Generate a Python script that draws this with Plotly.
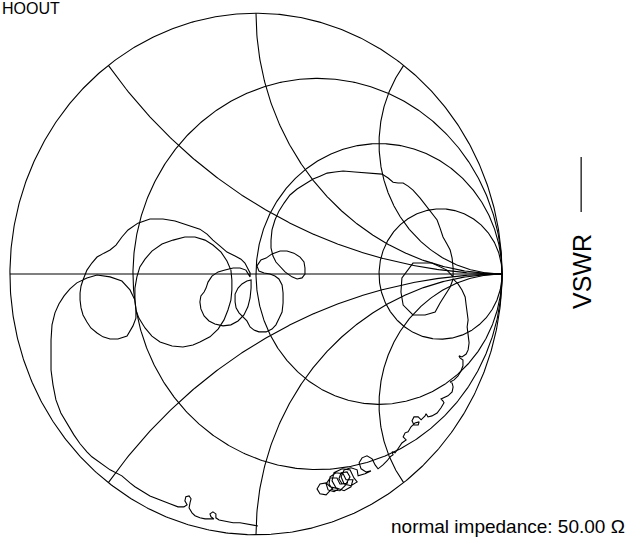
import numpy as np
import plotly.graph_objects as go

# smith chart grid values (normalised)
R_CIRCLES = [1/3, 1, 3]
X_ARCS = [0.5, 1, 2]

GAMMA_RE = [
    0.008, -0.012, -0.041, -0.065, -0.093, -0.118, -0.150, -0.163, -0.163, -0.175,
    -0.187, -0.183, -0.171, -0.187, -0.207, -0.228, -0.248, -0.260, -0.272, -0.268,
    -0.264, -0.272, -0.285, -0.289, -0.280, -0.293, -0.317, -0.350, -0.390, -0.431,
    -0.459, -0.492, -0.512, -0.545, -0.593, -0.634, -0.667, -0.687, -0.715, -0.740,
    -0.768, -0.793, -0.813, -0.825, -0.833, -0.833, -0.833, -0.829, -0.817, -0.801,
    -0.780, -0.756, -0.728, -0.687, -0.646, -0.593, -0.545, -0.512, -0.492,
    -0.488, -0.476, -0.451, -0.423, -0.390, -0.341, -0.297, -0.256, -0.228, -0.187,
    -0.154, -0.130, -0.114, -0.102, -0.098, -0.098, -0.102, -0.118, -0.142, -0.175,
    -0.207, -0.248, -0.289, -0.337, -0.382, -0.423, -0.451, -0.472, -0.484, -0.492,
    -0.492, -0.488, -0.488,
    -0.500, -0.524, -0.561, -0.593, -0.622, -0.646, -0.671, -0.687, -0.703, -0.711,
    -0.715, -0.715, -0.711, -0.703, -0.687, -0.667, -0.646, -0.618, -0.593, -0.569,
    -0.545, -0.520, -0.480, -0.431, -0.378, -0.329, -0.276, -0.228, -0.199, -0.175,
    -0.146, -0.118, -0.085, -0.061, -0.045, -0.033, -0.024, -0.024,
    -0.041, -0.065, -0.093, -0.126, -0.154, -0.179, -0.195, -0.203, -0.211, -0.224,
    -0.228, -0.224, -0.211, -0.191, -0.167, -0.134, -0.102, -0.073, -0.049, -0.033,
    -0.024, -0.020, -0.020,
    -0.037, -0.057, -0.073, -0.085, -0.085, -0.081, -0.069, -0.053, -0.037, -0.024,
    -0.008, 0.012, 0.041, 0.065, 0.081, 0.093, 0.106, 0.110, 0.110, 0.106,
    0.093, 0.077, 0.057, 0.033, 0.012, 0.004,
    0.020, 0.041, 0.065, 0.098, 0.126, 0.154, 0.179, 0.195, 0.199, 0.199,
    0.187, 0.167, 0.146, 0.118, 0.098, 0.081, 0.069, 0.061, 0.061, 0.065,
    0.077, 0.093, 0.114, 0.138, 0.167, 0.199, 0.232, 0.260, 0.289, 0.321,
    0.354, 0.402, 0.451, 0.484, 0.512, 0.537, 0.557, 0.577, 0.598, 0.618,
    0.638, 0.667, 0.695, 0.715, 0.736, 0.748, 0.760, 0.776, 0.789, 0.797,
    0.801, 0.801,
    0.776, 0.715, 0.638, 0.593, 0.589, 0.598, 0.638, 0.687, 0.728, 0.748,
    0.789, 0.801,
    0.821, 0.837, 0.850, 0.854, 0.858, 0.862, 0.858, 0.862, 0.866, 0.862,
    0.854, 0.837, 0.825, 0.829, 0.841, 0.841, 0.833, 0.821, 0.805, 0.789,
    0.797, 0.801, 0.797, 0.780, 0.764, 0.752, 0.760, 0.764, 0.752, 0.736,
    0.715, 0.699, 0.691, 0.687, 0.671, 0.659, 0.642, 0.634, 0.642, 0.659,
    0.663, 0.646, 0.630, 0.618, 0.606, 0.598, 0.610, 0.593, 0.577, 0.565,
    0.553, 0.557, 0.545, 0.533, 0.516, 0.496,
    0.484, 0.472, 0.451, 0.431, 0.419, 0.427, 0.447, 0.467, 0.443, 0.415,
    0.411, 0.386, 0.358, 0.346, 0.358, 0.386, 0.411, 0.398,
    0.382, 0.350, 0.317, 0.309, 0.325, 0.358, 0.386, 0.394,
    0.366, 0.354, 0.325, 0.301, 0.297, 0.313, 0.341, 0.362,
    0.382, 0.370, 0.346, 0.337, 0.350, 0.374,
    0.341, 0.329, 0.301, 0.285, 0.293, 0.317, 0.337,
    0.301, 0.285, 0.260, 0.248, 0.260, 0.285, 0.301, 0.313,
]
GAMMA_IM = [
    -0.966, -0.962, -0.958, -0.954, -0.954, -0.950, -0.943, -0.935, -0.920, -0.912,
    -0.920, -0.931, -0.939, -0.939, -0.939, -0.935, -0.927, -0.916, -0.897, -0.877,
    -0.862, -0.851, -0.854, -0.870, -0.885, -0.893, -0.893, -0.881, -0.866, -0.851,
    -0.835, -0.816, -0.801, -0.774, -0.751, -0.724, -0.701, -0.682, -0.651, -0.617,
    -0.575, -0.533, -0.483, -0.425, -0.368, -0.310, -0.253, -0.195, -0.149, -0.115,
    -0.084, -0.057, -0.034, -0.015, -0.004, -0.011, -0.027, -0.061, -0.100,
    -0.138, -0.169, -0.207, -0.238, -0.261, -0.276, -0.280, -0.272, -0.261, -0.241,
    -0.211, -0.176, -0.138, -0.100, -0.061, -0.023, 0.015, 0.050, 0.084, 0.111,
    0.130, 0.142, 0.142, 0.130, 0.115, 0.088, 0.057, 0.027, -0.011, -0.054,
    -0.100, -0.138, -0.169,
    -0.199, -0.238, -0.249, -0.249, -0.241, -0.226, -0.207, -0.184, -0.157, -0.130,
    -0.100, -0.073, -0.046, -0.023, 0.015, 0.042, 0.065, 0.080, 0.092, 0.111,
    0.142, 0.169, 0.195, 0.211, 0.211, 0.203, 0.188, 0.172, 0.153, 0.130,
    0.107, 0.084, 0.069, 0.057, 0.042, 0.023, 0.004, -0.011,
    0.015, 0.023, 0.023, 0.015, 0.008, -0.008, -0.031, -0.054, -0.069, -0.084,
    -0.107, -0.134, -0.161, -0.180, -0.192, -0.199, -0.195, -0.180, -0.157, -0.126,
    -0.092, -0.054, -0.023,
    -0.027, -0.038, -0.054, -0.077, -0.107, -0.130, -0.149, -0.165, -0.180, -0.203,
    -0.215, -0.222, -0.222, -0.211, -0.195, -0.172, -0.146, -0.111, -0.073, -0.042,
    -0.019, -0.008, 0.000, 0.004, 0.011, 0.031,
    0.054, 0.061, 0.077, 0.088, 0.088, 0.080, 0.065, 0.046, 0.023, 0.000,
    -0.015, -0.019, -0.011, 0.008, 0.027, 0.046, 0.069, 0.100, 0.130, 0.169,
    0.207, 0.241, 0.272, 0.303, 0.326, 0.345, 0.364, 0.375, 0.387, 0.391,
    0.395, 0.391, 0.387, 0.387, 0.383, 0.368, 0.352, 0.349, 0.349, 0.337,
    0.322, 0.291, 0.257, 0.234, 0.207, 0.176, 0.142, 0.115, 0.092, 0.061,
    0.023, -0.011,
    0.015, 0.042, 0.042, -0.015, -0.069, -0.119, -0.157, -0.157, -0.146, -0.111,
    -0.050, -0.019,
    -0.038, -0.061, -0.088, -0.119, -0.149, -0.176, -0.203, -0.234, -0.264, -0.291,
    -0.307, -0.318, -0.314, -0.322, -0.330, -0.352, -0.372, -0.391, -0.406, -0.414,
    -0.418, -0.433, -0.452, -0.467, -0.475, -0.479, -0.487, -0.494, -0.513, -0.533,
    -0.544, -0.548, -0.536, -0.544, -0.559, -0.548, -0.548, -0.563, -0.579, -0.579,
    -0.567, -0.571, -0.586, -0.605, -0.609, -0.625, -0.636, -0.648, -0.670, -0.686,
    -0.682, -0.693, -0.701, -0.716, -0.732, -0.747,
    -0.732, -0.709, -0.697, -0.705, -0.724, -0.747, -0.759, -0.755, -0.766, -0.774,
    -0.751, -0.743, -0.751, -0.778, -0.805, -0.812, -0.797, -0.782,
    -0.751, -0.747, -0.762, -0.793, -0.820, -0.831, -0.816, -0.789,
    -0.789, -0.766, -0.762, -0.778, -0.805, -0.828, -0.831, -0.812,
    -0.778, -0.759, -0.762, -0.785, -0.805, -0.801,
    -0.805, -0.782, -0.782, -0.805, -0.828, -0.835, -0.824,
    -0.816, -0.801, -0.805, -0.824, -0.843, -0.847, -0.831, -0.820,
]

# build the grid lines in the reflection plane
t = np.linspace(0, 2 * np.pi, 721)
gx, gy = [], []

def add(xs, ys):
    gx.extend(list(xs) + [None])
    gy.extend(list(ys) + [None])

add(np.cos(t), np.sin(t))
add([-1, 1], [0, 0])
for r in R_CIRCLES:
    c, rad = r / (r + 1), 1 / (r + 1)
    add(c + rad * np.cos(t), rad * np.sin(t))
rr = np.concatenate([np.linspace(0, 5, 400), np.geomspace(5, 1e5, 300)])
for xv in X_ARCS:
    for s in (1, -1):
        z = rr + 1j * s * xv
        g = (z - 1) / (z + 1)
        add(list(g.real) + [1.0], list(g.imag) + [0.0])

fig = go.Figure()
fig.add_trace(go.Scatter(x=gx, y=gy, mode="lines",
                         line=dict(color="black", width=1.1), hoverinfo="skip"))
fig.add_trace(go.Scatter(x=GAMMA_RE, y=GAMMA_IM, mode="lines", name="VSWR",
                         line=dict(color="black", width=1.1)))

fnt = "Liberation Sans"
fig.add_annotation(text="HOOUT", xref="paper", yref="paper", x=-0.010, y=1.0,
                   xanchor="left", yanchor="middle", showarrow=False,
                   font=dict(family=fnt, size=16, color="black"))
fig.add_annotation(text="VSWR", xref="paper", yref="paper", x=1.1497, y=0.504,
                   textangle=-90, xanchor="center", yanchor="middle", showarrow=False,
                   font=dict(family=fnt, size=25, color="black"))
fig.add_shape(type="line", xref="paper", yref="paper", x0=1.1477, x1=1.1477,
              y0=0.6165, y1=0.7198, line=dict(color="black", width=1.2))
fig.add_annotation(text="normal impedance: 50.00 Ω", xref="paper", yref="paper",
                   x=1.2394, y=0.0248, xanchor="right", yanchor="middle",
                   showarrow=False, font=dict(family=fnt, size=19, color="black"))

fig.update_layout(
    width=634, height=543,
    margin=dict(l=5, r=127, t=8, b=3),
    paper_bgcolor="white", plot_bgcolor="white",
    showlegend=False,
    xaxis=dict(range=[-1.02, 1.02], visible=False, fixedrange=True),
    yaxis=dict(range=[-1.02, 1.02], visible=False, fixedrange=True),
)

fig.write_html("out.html", config={"displayModeBar": False},
               post_script="document.body.style.margin='0px';")
